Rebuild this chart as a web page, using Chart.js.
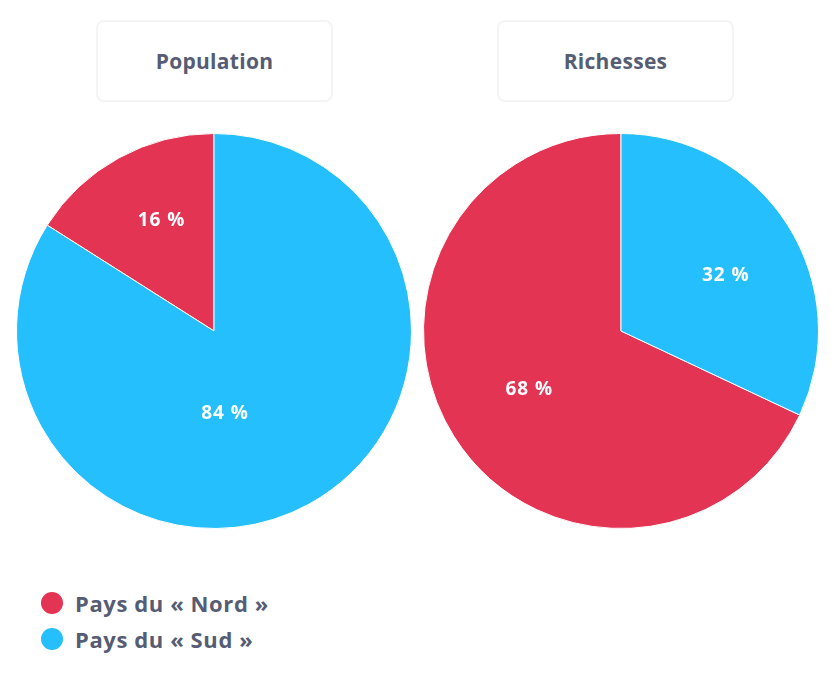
<!DOCTYPE html>
<html>
<head>
<meta charset="utf-8">
<script src="https://cdn.jsdelivr.net/npm/chart.js@4"></script>
<style>
  body { margin: 0; background: #fff; font-family: "Open Sans", Lato, sans-serif; }
  #wrap { position: relative; width: 834px; height: 673px; }
  .title {
    position: absolute; top: 20px; width: 237px; height: 82px;
    border: 2px solid #f3f4f6; border-radius: 8px; box-sizing: border-box;
    display: flex; align-items: center; justify-content: center;
    color: #555c73; font-size: 21px; font-weight: 700; letter-spacing: 0.3px;
  }
  .pie { position: absolute; top: 133px; width: 396px; height: 396px; }
  #legend { position: absolute; left: 41px; top: 585px; }
  .item { display: flex; align-items: center; height: 36px; color: #555c73; font-size: 22px; font-weight: 700; letter-spacing: 0.6px; }
  .dot { width: 22px; height: 22px; border-radius: 50%; margin-right: 12px; }
</style>
</head>
<body>
<div id="wrap">
  <div class="title" id="t1" style="left:96px"></div>
  <div class="title" id="t2" style="left:497px"></div>
  <div class="pie" style="left:16px"><canvas id="c1"></canvas></div>
  <div class="pie" style="left:423px"><canvas id="c2"></canvas></div>
  <div id="legend"></div>
</div>
<script>
const categories = ['Pays du « Nord »', 'Pays du « Sud »'];
const chartTitles = ['Population', 'Richesses'];
const population = [16, 84];
const richesses = [68, 32];
const colors = ['#e33454', '#26bffd'];
// how far out each label sits (fraction of radius) and where along its slice
const labelRadius = [[0.62, 0.42], [0.55, 0.6]];
const labelAlong = [[0.56, 0.57], [0.5, 0.54]];

document.getElementById('t1').textContent = chartTitles[0];
document.getElementById('t2').textContent = chartTitles[1];

const legend = document.getElementById('legend');
categories.forEach((c, i) => {
  const row = document.createElement('div');
  row.className = 'item';
  row.innerHTML = '<span class="dot" style="background:' + colors[i] + '"></span>' + c;
  legend.appendChild(row);
});

const sliceLabels = {
  id: 'sliceLabels',
  afterDatasetsDraw(chart, args, opts) {
    const ctx = chart.ctx;
    const meta = chart.getDatasetMeta(0);
    ctx.save();
    ctx.fillStyle = '#fff';
    ctx.font = 'bold 19px "Open Sans", sans-serif';
    ctx.letterSpacing = '1px';
    ctx.textAlign = 'center';
    ctx.textBaseline = 'middle';
    meta.data.forEach((arc, i) => {
      const p = arc.getProps(['x', 'y', 'startAngle', 'endAngle', 'outerRadius'], true);
      const a = p.startAngle + (p.endAngle - p.startAngle) * opts.along[i];
      const r = p.outerRadius * opts.radius[i];
      ctx.fillText(chart.data.datasets[0].data[i] + ' %', p.x + Math.cos(a) * r, p.y + Math.sin(a) * r);
    });
    ctx.restore();
  }
};

function makePie(id, values, k) {
  new Chart(document.getElementById(id), {
    type: 'pie',
    data: {
      labels: categories,
      datasets: [{
        data: values,
        backgroundColor: colors,
        borderColor: '#fff',
        borderWidth: 1
      }]
    },
    options: {
      responsive: true,
      maintainAspectRatio: false,
      animation: false,
      rotation: -values[0] * 3.6, // Nord slice ends at 12 o'clock
      plugins: {
        legend: { display: false },
        tooltip: { enabled: false },
        sliceLabels: { radius: labelRadius[k], along: labelAlong[k] }
      }
    },
    plugins: [sliceLabels]
  });
}

makePie('c1', population, 0);
makePie('c2', richesses, 1);
</script>
</body>
</html>
